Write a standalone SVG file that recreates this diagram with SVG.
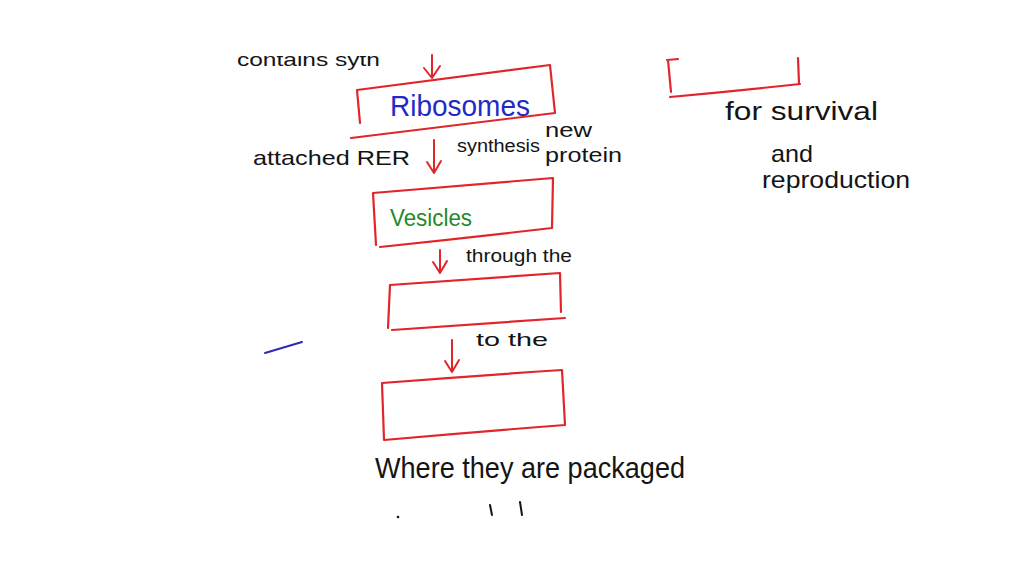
<svg xmlns="http://www.w3.org/2000/svg" width="1024" height="576" viewBox="0 0 1024 576">
<defs>
<style>
.box{fill:none;stroke:#e0262b;stroke-width:2.2;stroke-linecap:round;stroke-linejoin:round}
.arr{fill:none;stroke:#e0262b;stroke-width:2;stroke-linecap:round;stroke-linejoin:round}
.t{font-family:"Liberation Sans",Arial,sans-serif;fill:#141414}
.lbl{font-family:"Liberation Sans",Arial,sans-serif}
</style>
<clipPath id="topclip"><rect x="200" y="56" width="250" height="30"/></clipPath>
</defs>
<rect width="1024" height="576" fill="#ffffff"/>

<g id="connectors">
<path class="arr" d="M432 55 L432 77 M424 68 L432 78 L440 66"/>
<path class="arr" d="M434 140 L434 172 M427 162 L434 173 L441 161"/>
<path class="arr" d="M440 250 L440 272 M433 262 L440 273 L447 261"/>
<path class="arr" d="M452 340 L452 372 M445 361 L452 372 L459 360"/>
</g>

<g id="top-text" clip-path="url(#topclip)">
<text class="t" x="237" y="66" font-size="19" textLength="143" lengthAdjust="spacingAndGlyphs">contains  syth</text>
</g>

<g id="ribosomes">
<path class="box" d="M357 90 Q450 78 550 65 L555 113 Q450 126 351 138 M357 90 L360 123"/>
<text class="lbl" x="390" y="116" font-size="30" fill="#1f2bc4" textLength="140" lengthAdjust="spacingAndGlyphs">Ribosomes</text>
</g>

<text class="t" x="253" y="165" font-size="21" textLength="157" lengthAdjust="spacingAndGlyphs">attached RER</text>
<text class="t" x="457" y="152" font-size="18" textLength="83" lengthAdjust="spacingAndGlyphs">synthesis</text>
<text class="t" x="545" y="137" font-size="20" textLength="47" lengthAdjust="spacingAndGlyphs">new</text>
<text class="t" x="545" y="162" font-size="20" textLength="77" lengthAdjust="spacingAndGlyphs">protein</text>

<g id="vesicles">
<path class="box" d="M373 193 Q460 186 553 178 L552 228 Q465 238 380 247 M373 193 L376 245"/>
<text class="lbl" x="390" y="226" font-size="23" fill="#1e8a2a" textLength="82" lengthAdjust="spacingAndGlyphs">Vesicles</text>
</g>

<text class="t" x="466" y="262" font-size="19" textLength="106" lengthAdjust="spacingAndGlyphs">through  the</text>

<g id="box3">
<path class="box" d="M390 285 Q475 279 560 273 L561 312 M565 318 Q478 324 392 330 M390 285 L388 328"/>
</g>

<text class="t" x="476" y="346" font-size="19" textLength="72" lengthAdjust="spacingAndGlyphs">to  the</text>
<path d="M265 353 L302 342" stroke="#2b2bb8" stroke-width="2" fill="none" stroke-linecap="round"/>

<g id="box4">
<path class="box" d="M382 383 Q472 376 562 370 L565 425 Q474 432 384 440 M382 383 L384 440"/>
</g>

<text class="t" x="375" y="478" font-size="29" textLength="310" lengthAdjust="spacingAndGlyphs">Where  they are  packaged</text>
<circle cx="398" cy="517" r="1.3" fill="#141414"/>
<path d="M490 505 L492 515 M520 502 L522 515" stroke="#141414" stroke-width="2" fill="none" stroke-linecap="round"/>

<g id="right-box">
<path class="box" d="M667 60 L678 59 M668 60 L671 92 M670 97 Q735 91 800 84 M798 58 L799 83"/>
</g>

<text class="t" x="725" y="120" font-size="26" textLength="153" lengthAdjust="spacingAndGlyphs">for survival</text>
<text class="t" x="771" y="162" font-size="24" textLength="42" lengthAdjust="spacingAndGlyphs">and</text>
<text class="t" x="762" y="188" font-size="24" textLength="148" lengthAdjust="spacingAndGlyphs">reproduction</text>
</svg>
